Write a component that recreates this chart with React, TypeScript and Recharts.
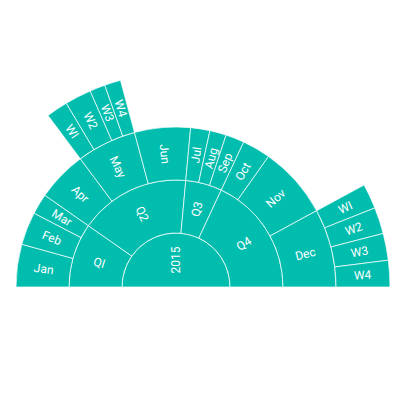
import { PieChart, Pie, Cell } from 'recharts';

const years = ['2015'];
const yearValues = [180.1];

const quarters = ['QI', 'Q2', 'Q3', 'Q4'];
const quarterValues = [35, 60.3, 19.8, 65];

const months = ['Jan', 'Feb', 'Mar', 'Apr', 'May', 'Jun', 'Jul', 'Aug', 'Sep', 'Oct', 'Nov', 'Dec'];
const monthValues = [15.5, 12, 7.5, 18.3, 21.7, 20.3, 7, 6, 6.8, 10.3, 26.2, 28.5];

const weeks = ['WI', 'W2', 'W3', 'W4'];
const mayWeekValues = [5.9, 7.2, 4.2, 4.4];
const decWeekValues = [6.8, 7.2, 7.3, 7.2];

const FILL = '#00bdae';
const CX = 176;
const CY = 287;
const RAD = Math.PI / 180;

const toRows = (names: string[], values: number[]) =>
  names.map((name, i) => ({ name, value: values[i] }));

const sum = (arr: number[]) => arr.reduce((a, b) => a + b, 0);

// outer ring only has weeks for May and Dec, the rest is empty space
const weekRows = [
  { name: '', value: sum(monthValues.slice(0, 4)) },
  ...toRows(weeks, mayWeekValues),
  { name: '', value: sum(monthValues.slice(5, 11)) },
  ...toRows(weeks, decWeekValues),
];

const renderLabel = (props: any) => {
  const { midAngle, innerRadius, outerRadius, name } = props;
  if (!name) return null;
  const r = (innerRadius + outerRadius) / 2;
  const x = CX + r * Math.cos(midAngle * RAD);
  const y = CY - r * Math.sin(midAngle * RAD);
  const rot = midAngle > 90.5 ? 180 - midAngle : -midAngle;
  return (
    <text
      x={x}
      y={y}
      fill="#fff"
      fontSize={12}
      fontFamily="Roboto, sans-serif"
      textAnchor="middle"
      dominantBaseline="central"
      transform={`rotate(${rot} ${x} ${y})`}
    >
      {name}
    </text>
  );
};

const ring = (key: string, rows: { name: string; value: number }[], inner: number, outer: number) => (
  <Pie
    key={key}
    data={rows}
    dataKey="value"
    nameKey="name"
    cx={CX}
    cy={CY}
    startAngle={180}
    endAngle={0}
    innerRadius={inner}
    outerRadius={outer}
    label={renderLabel}
    labelLine={false}
    isAnimationActive={false}
  >
    {rows.map((row, i) => (
      <Cell
        key={i}
        fill={row.name ? FILL : 'none'}
        stroke={row.name ? '#fff' : 'none'}
        strokeWidth={0.7}
      />
    ))}
  </Pie>
);

export default function App() {
  return (
    <div style={{ position: 'absolute', left: 0, top: 0, background: '#fff' }}>
      <PieChart width={400} height={400} margin={{ top: 0, right: 0, bottom: 0, left: 0 }}>
        {ring('year', toRows(years, yearValues), 0, 54)}
        {ring('quarter', toRows(quarters, quarterValues), 54, 107)}
        {ring('month', toRows(months, monthValues), 107, 160)}
        {ring('week', weekRows, 160, 214)}
      </PieChart>
    </div>
  );
}
